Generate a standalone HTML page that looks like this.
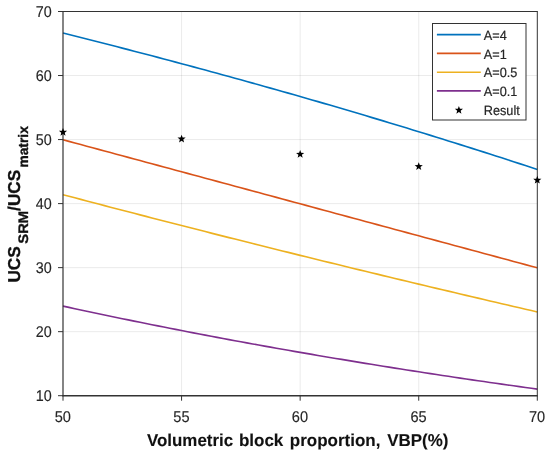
<!DOCTYPE html>
<html><head><meta charset="utf-8"><title>chart</title>
<style>
html,body{margin:0;padding:0;background:#fff;width:550px;height:456px;overflow:hidden}
svg text{font-family:"Liberation Sans",Arial,sans-serif;fill:#262626;text-rendering:geometricPrecision}
.t{font-size:15.5px;stroke:#262626;stroke-width:0.15px}
.l{font-size:13.4px;stroke:#262626;stroke-width:0.2px}
.b{font-size:17.2px;font-weight:bold;fill:#111;stroke:#111;stroke-width:0.12px}
.s{font-size:13.8px;font-weight:bold;fill:#111;stroke:#111;stroke-width:0.12px}
</style></head><body>
<svg width="550" height="456" viewBox="0 0 550 456" style="display:block;position:absolute;left:0;top:0">
<rect width="550" height="456" fill="#fff"/>
<line x1="181.57" x2="181.57" y1="11.5" y2="395.7" stroke="#262626" stroke-opacity="0.095" stroke-width="1"/>
<line x1="300.15" x2="300.15" y1="11.5" y2="395.7" stroke="#262626" stroke-opacity="0.095" stroke-width="1"/>
<line x1="418.72" x2="418.72" y1="11.5" y2="395.7" stroke="#262626" stroke-opacity="0.095" stroke-width="1"/>
<line x1="63.0" x2="537.3" y1="331.67" y2="331.67" stroke="#262626" stroke-opacity="0.095" stroke-width="1"/>
<line x1="63.0" x2="537.3" y1="267.63" y2="267.63" stroke="#262626" stroke-opacity="0.095" stroke-width="1"/>
<line x1="63.0" x2="537.3" y1="203.60" y2="203.60" stroke="#262626" stroke-opacity="0.095" stroke-width="1"/>
<line x1="63.0" x2="537.3" y1="139.57" y2="139.57" stroke="#262626" stroke-opacity="0.095" stroke-width="1"/>
<line x1="63.0" x2="537.3" y1="75.53" y2="75.53" stroke="#262626" stroke-opacity="0.095" stroke-width="1"/>
<path d="M63.00,32.84 L68.93,34.33 L74.86,35.81 L80.79,37.31 L86.72,38.80 L92.64,40.31 L98.57,41.81 L104.50,43.33 L110.43,44.85 L116.36,46.37 L122.29,47.90 L128.22,49.43 L134.14,50.97 L140.07,52.52 L146.00,54.07 L151.93,55.62 L157.86,57.18 L163.79,58.75 L169.72,60.32 L175.65,61.90 L181.57,63.48 L187.50,65.07 L193.43,66.67 L199.36,68.27 L205.29,69.87 L211.22,71.48 L217.15,73.10 L223.08,74.72 L229.00,76.35 L234.93,77.98 L240.86,79.62 L246.79,81.26 L252.72,82.91 L258.65,84.57 L264.58,86.23 L270.51,87.90 L276.43,89.57 L282.36,91.25 L288.29,92.93 L294.22,94.63 L300.15,96.32 L306.08,98.02 L312.01,99.73 L317.94,101.45 L323.87,103.17 L329.79,104.89 L335.72,106.63 L341.65,108.36 L347.58,110.11 L353.51,111.86 L359.44,113.61 L365.37,115.38 L371.29,117.15 L377.22,118.92 L383.15,120.70 L389.08,122.49 L395.01,124.28 L400.94,126.08 L406.87,127.89 L412.80,129.70 L418.72,131.52 L424.65,133.34 L430.58,135.17 L436.51,137.01 L442.44,138.85 L448.37,140.70 L454.30,142.56 L460.23,144.42 L466.15,146.29 L472.08,148.17 L478.01,150.05 L483.94,151.94 L489.87,153.84 L495.80,155.74 L501.73,157.65 L507.66,159.56 L513.58,161.48 L519.51,163.41 L525.44,165.35 L531.37,167.29 L537.30,169.24" fill="none" stroke="#0072BD" stroke-width="1.62" stroke-linejoin="round" transform="translate(0,0.2)"/>
<path d="M63.00,139.57 L68.93,141.17 L74.86,142.77 L80.79,144.37 L86.72,145.97 L92.64,147.57 L98.57,149.17 L104.50,150.77 L110.43,152.37 L116.36,153.97 L122.29,155.57 L128.22,157.18 L134.14,158.78 L140.07,160.38 L146.00,161.98 L151.93,163.58 L157.86,165.18 L163.79,166.78 L169.72,168.38 L175.65,169.98 L181.57,171.58 L187.50,173.18 L193.43,174.79 L199.36,176.39 L205.29,177.99 L211.22,179.59 L217.15,181.19 L223.08,182.79 L229.00,184.39 L234.93,185.99 L240.86,187.59 L246.79,189.19 L252.72,190.79 L258.65,192.39 L264.58,193.99 L270.51,195.60 L276.43,197.20 L282.36,198.80 L288.29,200.40 L294.22,202.00 L300.15,203.60 L306.08,205.20 L312.01,206.80 L317.94,208.40 L323.87,210.00 L329.79,211.60 L335.72,213.21 L341.65,214.81 L347.58,216.41 L353.51,218.01 L359.44,219.61 L365.37,221.21 L371.29,222.81 L377.22,224.41 L383.15,226.01 L389.08,227.61 L395.01,229.21 L400.94,230.81 L406.87,232.41 L412.80,234.02 L418.72,235.62 L424.65,237.22 L430.58,238.82 L436.51,240.42 L442.44,242.02 L448.37,243.62 L454.30,245.22 L460.23,246.82 L466.15,248.42 L472.08,250.02 L478.01,251.62 L483.94,253.23 L489.87,254.83 L495.80,256.43 L501.73,258.03 L507.66,259.63 L513.58,261.23 L519.51,262.83 L525.44,264.43 L531.37,266.03 L537.30,267.63" fill="none" stroke="#D95319" stroke-width="1.62" stroke-linejoin="round" transform="translate(0,0.2)"/>
<path d="M63.00,194.50 L68.93,196.07 L74.86,197.63 L80.79,199.19 L86.72,200.75 L92.64,202.31 L98.57,203.87 L104.50,205.42 L110.43,206.97 L116.36,208.51 L122.29,210.06 L128.22,211.60 L134.14,213.13 L140.07,214.67 L146.00,216.20 L151.93,217.73 L157.86,219.26 L163.79,220.79 L169.72,222.31 L175.65,223.83 L181.57,225.35 L187.50,226.86 L193.43,228.37 L199.36,229.88 L205.29,231.39 L211.22,232.89 L217.15,234.39 L223.08,235.89 L229.00,237.39 L234.93,238.88 L240.86,240.37 L246.79,241.86 L252.72,243.35 L258.65,244.83 L264.58,246.31 L270.51,247.79 L276.43,249.26 L282.36,250.74 L288.29,252.21 L294.22,253.68 L300.15,255.14 L306.08,256.60 L312.01,258.06 L317.94,259.52 L323.87,260.98 L329.79,262.43 L335.72,263.88 L341.65,265.33 L347.58,266.77 L353.51,268.22 L359.44,269.66 L365.37,271.09 L371.29,272.53 L377.22,273.96 L383.15,275.39 L389.08,276.82 L395.01,278.25 L400.94,279.67 L406.87,281.09 L412.80,282.51 L418.72,283.92 L424.65,285.34 L430.58,286.75 L436.51,288.15 L442.44,289.56 L448.37,290.96 L454.30,292.36 L460.23,293.76 L466.15,295.16 L472.08,296.55 L478.01,297.94 L483.94,299.33 L489.87,300.72 L495.80,302.10 L501.73,303.48 L507.66,304.86 L513.58,306.24 L519.51,307.61 L525.44,308.99 L531.37,310.36 L537.30,311.72" fill="none" stroke="#EDB120" stroke-width="1.62" stroke-linejoin="round" transform="translate(0,0.2)"/>
<path d="M63.00,305.89 L68.93,307.18 L74.86,308.47 L80.79,309.74 L86.72,311.01 L92.64,312.27 L98.57,313.53 L104.50,314.78 L110.43,316.02 L116.36,317.25 L122.29,318.48 L128.22,319.70 L134.14,320.91 L140.07,322.11 L146.00,323.31 L151.93,324.50 L157.86,325.69 L163.79,326.87 L169.72,328.04 L175.65,329.20 L181.57,330.36 L187.50,331.51 L193.43,332.65 L199.36,333.79 L205.29,334.92 L211.22,336.05 L217.15,337.17 L223.08,338.28 L229.00,339.38 L234.93,340.48 L240.86,341.58 L246.79,342.66 L252.72,343.74 L258.65,344.82 L264.58,345.88 L270.51,346.95 L276.43,348.00 L282.36,349.05 L288.29,350.10 L294.22,351.13 L300.15,352.17 L306.08,353.19 L312.01,354.21 L317.94,355.23 L323.87,356.23 L329.79,357.24 L335.72,358.23 L341.65,359.22 L347.58,360.21 L353.51,361.19 L359.44,362.16 L365.37,363.13 L371.29,364.09 L377.22,365.05 L383.15,366.00 L389.08,366.95 L395.01,367.89 L400.94,368.83 L406.87,369.76 L412.80,370.68 L418.72,371.60 L424.65,372.51 L430.58,373.42 L436.51,374.33 L442.44,375.23 L448.37,376.12 L454.30,377.01 L460.23,377.89 L466.15,378.77 L472.08,379.64 L478.01,380.51 L483.94,381.37 L489.87,382.23 L495.80,383.09 L501.73,383.93 L507.66,384.78 L513.58,385.62 L519.51,386.45 L525.44,387.28 L531.37,388.10 L537.30,388.92" fill="none" stroke="#7E2F8E" stroke-width="1.62" stroke-linejoin="round" transform="translate(0,0.2)"/>
<line x1="62.5" x2="537.8" y1="11.5" y2="11.5" stroke="#333" stroke-width="1"/>
<line x1="537.3" x2="537.3" y1="11.5" y2="395.7" stroke="#333" stroke-width="1"/>
<line x1="63.0" x2="63.0" y1="11.5" y2="396.3" stroke="#333" stroke-width="1.2"/>
<line x1="62.4" x2="537.8" y1="395.7" y2="395.7" stroke="#333" stroke-width="1.35"/>
<line x1="63.00" x2="63.00" y1="395.7" y2="400.7" stroke="#333" stroke-width="1"/>
<text transform="translate(62.80,421.9) scale(0.94,1)" text-anchor="middle" class="t">50</text>
<line x1="181.57" x2="181.57" y1="395.7" y2="400.7" stroke="#333" stroke-width="1"/>
<text transform="translate(181.38,421.9) scale(0.94,1)" text-anchor="middle" class="t">55</text>
<line x1="300.15" x2="300.15" y1="395.7" y2="400.7" stroke="#333" stroke-width="1"/>
<text transform="translate(299.95,421.9) scale(0.94,1)" text-anchor="middle" class="t">60</text>
<line x1="418.72" x2="418.72" y1="395.7" y2="400.7" stroke="#333" stroke-width="1"/>
<text transform="translate(418.52,421.9) scale(0.94,1)" text-anchor="middle" class="t">65</text>
<line x1="537.30" x2="537.30" y1="395.7" y2="400.7" stroke="#333" stroke-width="1"/>
<text transform="translate(537.10,421.9) scale(0.94,1)" text-anchor="middle" class="t">70</text>
<line x1="58.0" x2="63.0" y1="395.70" y2="395.70" stroke="#333" stroke-width="1"/>
<text transform="translate(51.8,401.35) scale(0.925,1)" text-anchor="end" class="t">10</text>
<line x1="58.0" x2="63.0" y1="331.67" y2="331.67" stroke="#333" stroke-width="1"/>
<text transform="translate(51.8,337.32) scale(0.925,1)" text-anchor="end" class="t">20</text>
<line x1="58.0" x2="63.0" y1="267.63" y2="267.63" stroke="#333" stroke-width="1"/>
<text transform="translate(51.8,273.28) scale(0.925,1)" text-anchor="end" class="t">30</text>
<line x1="58.0" x2="63.0" y1="203.60" y2="203.60" stroke="#333" stroke-width="1"/>
<text transform="translate(51.8,209.25) scale(0.925,1)" text-anchor="end" class="t">40</text>
<line x1="58.0" x2="63.0" y1="139.57" y2="139.57" stroke="#333" stroke-width="1"/>
<text transform="translate(51.8,145.22) scale(0.925,1)" text-anchor="end" class="t">50</text>
<line x1="58.0" x2="63.0" y1="75.53" y2="75.53" stroke="#333" stroke-width="1"/>
<text transform="translate(51.8,81.18) scale(0.925,1)" text-anchor="end" class="t">60</text>
<line x1="58.0" x2="63.0" y1="11.50" y2="11.50" stroke="#333" stroke-width="1"/>
<text transform="translate(51.8,17.15) scale(0.925,1)" text-anchor="end" class="t">70</text>
<polygon points="63.00,127.90 64.06,130.74 67.09,130.87 64.72,132.76 65.53,135.68 63.00,134.01 60.47,135.68 61.28,132.76 58.91,130.87 61.94,130.74" fill="#000"/>
<polygon points="181.57,134.63 182.64,137.47 185.66,137.60 183.29,139.48 184.10,142.41 181.57,140.73 179.05,142.41 179.86,139.48 177.49,137.60 180.51,137.47" fill="#000"/>
<polygon points="300.15,149.99 301.21,152.83 304.24,152.97 301.87,154.85 302.68,157.77 300.15,156.10 297.62,157.77 298.43,154.85 296.06,152.97 299.09,152.83" fill="#000"/>
<polygon points="418.72,162.16 419.79,165.00 422.81,165.13 420.44,167.02 421.25,169.94 418.72,168.27 416.20,169.94 417.01,167.02 414.64,165.13 417.66,165.00" fill="#000"/>
<polygon points="537.30,175.80 538.36,178.64 541.39,178.77 539.02,180.66 539.83,183.58 537.30,181.91 534.77,183.58 535.58,180.66 533.21,178.77 536.24,178.64" fill="#000"/>
<rect x="432.5" y="23.5" width="93.5" height="96.5" fill="#fff" stroke="#333" stroke-width="1"/>
<line x1="436.9" x2="480.8" y1="34.6" y2="34.6" stroke="#0072BD" stroke-width="1.6"/>
<text transform="translate(483.8,40.00) scale(0.948,1)" class="l">A=4</text>
<line x1="436.9" x2="480.8" y1="53.4" y2="53.4" stroke="#D95319" stroke-width="1.6"/>
<text transform="translate(483.8,58.80) scale(0.948,1)" class="l">A=1</text>
<line x1="436.9" x2="480.8" y1="72.2" y2="72.2" stroke="#EDB120" stroke-width="1.6"/>
<text transform="translate(483.8,77.10) scale(0.948,1)" class="l">A=0.5</text>
<line x1="436.9" x2="480.8" y1="90.9" y2="90.9" stroke="#7E2F8E" stroke-width="1.6"/>
<text transform="translate(483.8,96.30) scale(0.948,1)" class="l">A=0.1</text>
<polygon points="458.90,105.90 459.96,108.74 462.99,108.87 460.62,110.76 461.43,113.68 458.90,112.01 456.37,113.68 457.18,110.76 454.81,108.87 457.84,108.74" fill="#000"/>
<text transform="translate(483.8,114.80) scale(0.948,1)" class="l">Result</text>
<text x="147.0" y="446.4" class="b" textLength="86.1" lengthAdjust="spacingAndGlyphs">Volumetric</text>
<text x="238.9" y="446.4" class="b" textLength="44.4" lengthAdjust="spacingAndGlyphs">block</text>
<text x="289.8" y="446.4" class="b" textLength="90.6" lengthAdjust="spacingAndGlyphs">proportion,</text>
<text x="387.2" y="446.4" class="b" textLength="61.2" lengthAdjust="spacingAndGlyphs">VBP(%)</text>
<text transform="translate(20.0,282.6) rotate(-90)" class="b" style="stroke-width:0.32px" >UCS</text>
<text transform="translate(28.1,243.7) rotate(-90)" class="s" style="stroke-width:0.32px" textLength="32.8" lengthAdjust="spacingAndGlyphs">SRM</text>
<text transform="translate(20.0,210.9) rotate(-90)" class="b" style="stroke-width:0.32px" >/UCS</text>
<text transform="translate(28.1,167.6) rotate(-90)" class="s" style="stroke-width:0.32px" >matrix</text>
</svg>
</body></html>
